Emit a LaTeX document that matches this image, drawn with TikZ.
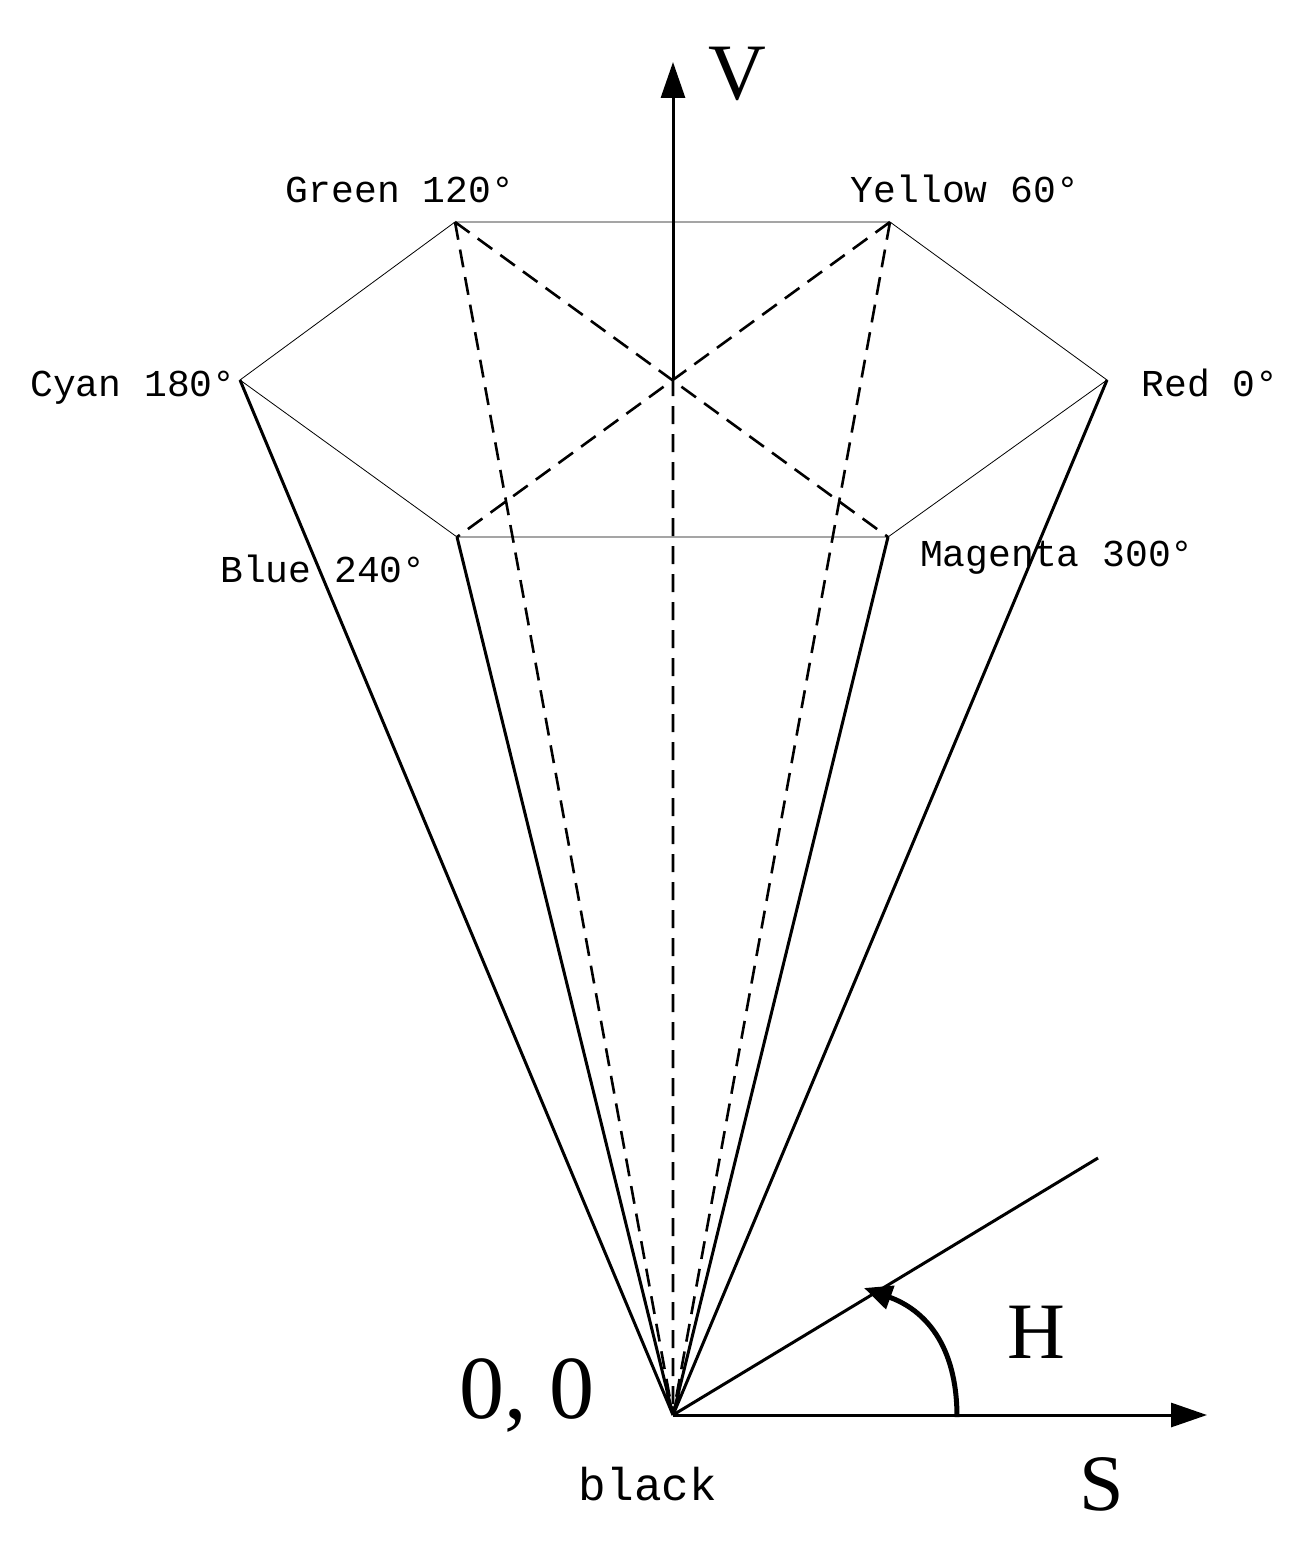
\documentclass[tikz,border=0pt]{standalone}
\usepackage{fontspec}
\setmainfont{Liberation Serif}
\newfontfamily\monof{Liberation Mono}
\usetikzlibrary{arrows.meta}
\begin{document}
\begin{tikzpicture}[x=0.5pt,y=-0.5pt,
  thin line/.style={line width=0.4pt},
  edge/.style={line width=1.5pt},
  dash line/.style={line width=1.3pt,dash pattern=on 9pt off 5pt},
  lab/.style={font=\monof\fontsize{19}{19}\selectfont,inner sep=0},
  big/.style={font=\fontsize{40}{40}\selectfont,inner sep=0}]
\useasboundingbox (0,0) rectangle (1303,1552);
\coordinate (O) at (673,1415);
\coordinate (Vt) at (673,62);
\coordinate (G) at (455,222);
\coordinate (Y) at (890,222);
\coordinate (R) at (1107,380);
\coordinate (M) at (888,537);
\coordinate (B) at (457,537);
\coordinate (C) at (240,380);
\coordinate (Ctr) at (673,378);
\coordinate (Se) at (1207,1415);
\coordinate (He) at (1098,1158);
\draw[thin line] (G)--(Y)--(R)--(M)--(B)--(C)--cycle;
\draw[dash line] (G)--(M) (Y)--(B) (G)--(O) (Y)--(O) (Ctr)--(O);
\draw[edge] (C)--(O) (B)--(O) (M)--(O) (R)--(O);
\draw[edge,-{Triangle[length=18pt,width=12pt]}] (Ctr)--(Vt);
\draw[edge,-{Triangle[length=18pt,width=12pt]}] (O)--(Se);
\draw[edge] (O)--(He);
\draw[line width=2.5pt,-{Triangle[length=14pt,width=12pt]}] (957,1417) .. controls (957,1345) and (925,1310) .. (864,1288);
\node[lab,anchor=base] (g) at (400,202) {Green 120°};
\node[lab,anchor=base] (y) at (965,202) {Yellow 60°};
\node[lab,anchor=base] (c) at (133,396) {Cyan 180°};
\node[lab,anchor=base] (r) at (1210,396) {Red 0°};
\node[lab,anchor=base] (b) at (323,582) {Blue 240°};
\node[lab,anchor=base] (m) at (1057,566) {Magenta 300°};
\node[lab,anchor=base,font=\monof\fontsize{23}{23}\selectfont] (bl) at (648,1500) {black};
\node[big,anchor=base] (v) at (737,100) {V};
\node[big,anchor=base] (h) at (1036,1358) {H};
\node[big,anchor=base] (s) at (1102,1510) {S};
\node[big,anchor=base,font=\fontsize{45}{45}\selectfont] (z) at (527,1418) {0, 0};
\end{tikzpicture}
\end{document}
